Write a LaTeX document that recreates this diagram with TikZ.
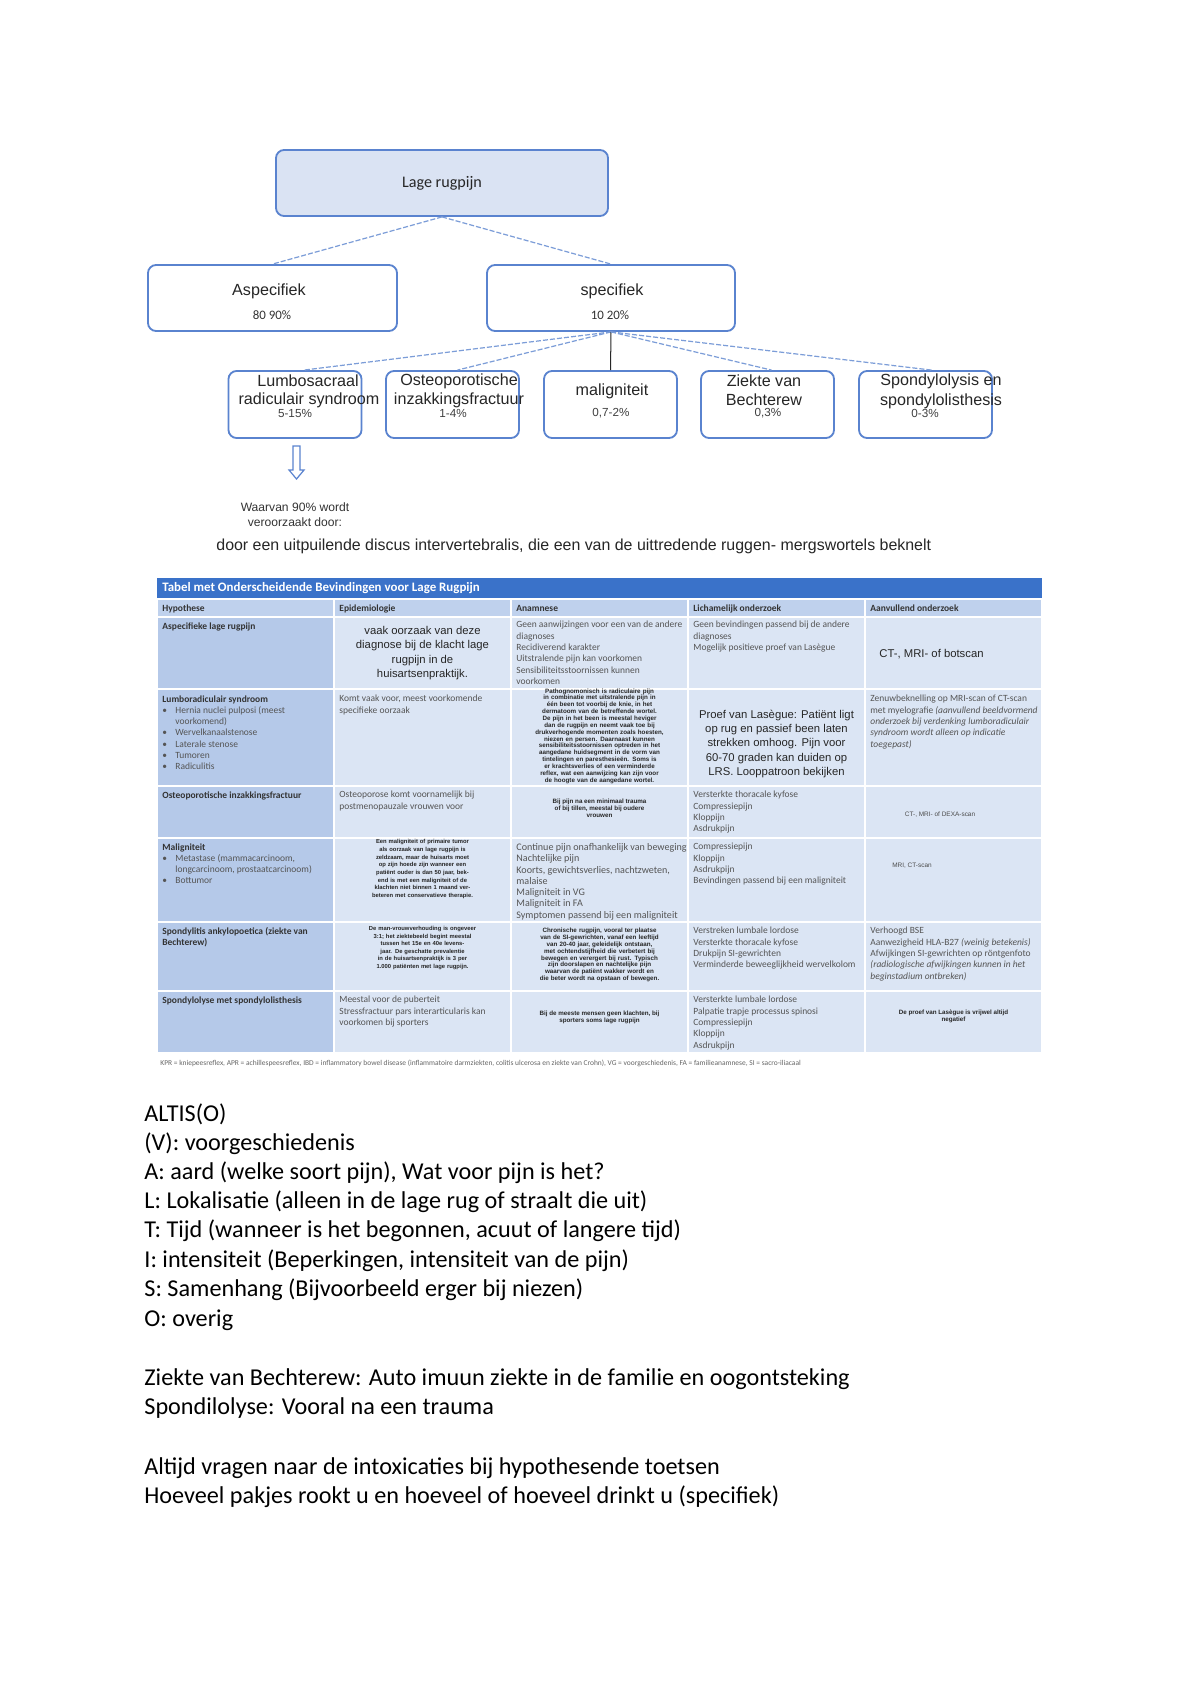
\documentclass[tikz,border=0pt]{standalone}
\usepackage{fontspec}
\setmainfont{Carlito}
\newfontfamily\arialf{Liberation Sans}
\usetikzlibrary{calc}
\newdimen\pxu \pxu=0.49583pt
\definecolor{boxblue}{HTML}{5A83CF}
\definecolor{rootfill}{HTML}{DAE3F3}
\definecolor{linkblue}{HTML}{7C9DD8}
\definecolor{titleblue}{HTML}{3A72C9}
\definecolor{colone}{HTML}{B5C9E9}
\definecolor{headfill}{HTML}{BFD1ED}
\definecolor{cellfill}{HTML}{DBE5F4}
\definecolor{celltext}{HTML}{555555}
\newcommand\bul{\makebox[13\pxu][l]{•}}
\newcommand\ind{\hspace*{13\pxu}}
\tikzset{
  treebox/.style={draw=boxblue, line width=0.9pt, rounded corners=4pt, fill=white, inner sep=0pt},
  lbl/.style={font=\arialf\fontsize{8}{9.4}\selectfont, inner sep=0pt, align=center, text=black!85},
  pct/.style={font=\fontsize{6.4}{7}\selectfont, inner sep=0pt, text=black!80},
  spct/.style={font=\arialf\fontsize{5.8}{7}\selectfont, inner sep=0pt, text=black!75},
  link/.style={linkblue, line width=0.6pt, dash pattern=on 2.5pt off 1pt},
  cellbg/.style={draw=white, line width=0.9pt},
  ctext/.style={font=\fontsize{4.7}{5.6}\selectfont, text=celltext, anchor=north west, inner sep=0pt, align=left},
  htext/.style={font=\bfseries\fontsize{4.7}{5.6}\selectfont, text=black!80, anchor=north west, inner sep=0pt, align=left},
  tinytxt/.style={font=\arialf\bfseries\fontsize{3.1}{3.4}\selectfont, text=black!85, inner sep=0pt, align=center},
  tinyplain/.style={font=\arialf\fontsize{3.2}{3.6}\selectfont, text=black!70, inner sep=0pt, align=center},
  bigtxt/.style={font=\arialf\fontsize{5.6}{7.1}\selectfont, text=black!85, inner sep=0pt, align=center},
  bodytxt/.style={font=\fontsize{12}{14.5}\selectfont, anchor=base west, inner sep=0pt, text=black},
}
\begin{document}
\begin{tikzpicture}[x=\pxu, y=-\pxu]
\useasboundingbox (0,0) rectangle (1200,1696);
\fill[white] (0,0) rectangle (1200,1696);

% ---------------- tree ----------------
\node[treebox, fill=rootfill, minimum width=332\pxu, minimum height=66\pxu,
      font=\fontsize{8}{9}\selectfont, text=black!85] (root) at (442,183) {Lage rugpijn};
\node[treebox, minimum width=249\pxu, minimum height=66\pxu] (asp) at (272.5,298) {};
\node[treebox, minimum width=248\pxu, minimum height=66\pxu] (spec) at (611,298) {};
\node[lbl] (asptitle) at (269,291) {Aspecifiek};
\node[pct] (asppct) at (272,315) {80 90\%};
\node[lbl] (spectitle) at (612,291) {specifiek};
\node[pct] (specpct) at (610,315) {10 20\%};

\foreach \nm/\cx in {lumbo/295, osteo/452.5, malig/610.5, bech/767.5, spondy/925.5}
  \node[treebox, minimum width=133\pxu, minimum height=67\pxu] (\nm) at (\cx,404.5) {};

\node[lbl] (lumboa) at (308,381) {Lumbosacraal};
\node[lbl] (lumbob) at (309,400) {radiculair syndroom};
\node[spct] (lumboc) at (295,413) {5-15\%};
\node[lbl] (osteoa) at (459,381) {Osteoporotische};
\node[lbl] (osteob) at (459,400) {inzakkingsfractuur};
\node[spct] (osteoc) at (453,413) {1-4\%};
\node[lbl] (maliga) at (612,391) {maligniteit};
\node[spct] (maligc) at (611,413) {0,7-2\%};
\node[lbl] (becha) at (764,381) {Ziekte van};
\node[lbl] (bechb) at (764,400) {Bechterew};
\node[spct] (bechc) at (768,413) {0,3\%};
\node[lbl] (spondya) at (941,381) {Spondylolysis en};
\node[lbl] (spondyb) at (941,401) {spondylolisthesis};
\node[spct] (spondyc) at (925,413) {0-3\%};

\draw[link] (root.south) -- (asp.north);
\draw[link] (root.south) -- (spec.north);
\draw[link] (spec.south) -- ($(lumbo.north)+(9,0)$);
\draw[link] (spec.south) -- ($(osteo.north)+(5,0)$);
\draw[black!85, line width=0.5pt] (spec.south) -- (malig.north);
\draw[link] (spec.south) -- ($(bech.north)+(4,0)$);
\draw[link] (spec.south) -- ($(spondy.north)+(6,0)$);

% hollow down arrow
\draw[boxblue, line width=0.6pt, fill=white]
  (293,446) -- (300,446) -- (300,470) -- (304,470) -- (296.5,479) -- (289,470) -- (293,470) -- cycle;
\node[font=\arialf\fontsize{6}{7.4}\selectfont, align=center, inner sep=0pt, text=black!80] (waarvan) at (295,514.5)
  {Waarvan 90\% wordt\\veroorzaakt door:};
\node[font=\arialf\fontsize{7.9}{8.5}\selectfont, anchor=west, inner sep=0pt, text=black!85] (door) at (216,546)
  {door een uitpuilende discus intervertebralis, die een van de uittredende ruggen- mergswortels beknelt};

% ---------------- table ----------------
\fill[titleblue] (157,578) rectangle (1042,598);
\node[font=\bfseries\fontsize{6.4}{7}\selectfont, text=white, anchor=west, inner sep=0pt] (ttitle) at (162,588.5)
  {Tabel met Onderscheidende Bevindingen voor Lage Rugpijn};
\foreach \xa/\xb in {157/334, 334/511, 511/688, 688/865, 865/1042}
  \path[cellbg, fill=headfill] (\xa,599) rectangle (\xb,617);
\foreach \ya/\yb in {617/689, 689/786, 786/838, 838/922, 922/991, 991/1053} {
  \path[cellbg, fill=colone] (157,\ya) rectangle (334,\yb);
  \foreach \xa/\xb in {334/511, 511/688, 688/865, 865/1042}
    \path[cellbg, fill=cellfill] (\xa,\ya) rectangle (\xb,\yb);
}
% header
\node[htext, anchor=west] (h1) at (162,608.5) {Hypothese};
\node[htext, anchor=west] (h2) at (339,608.5) {Epidemiologie};
\node[htext, anchor=west] (h3) at (516,608.5) {Anamnese};
\node[htext, anchor=west] (h4) at (693,608.5) {Lichamelijk onderzoek};
\node[htext, anchor=west] (h5) at (870,608.5) {Aanvullend onderzoek};

% row 1
\node[htext] (r1a) at (162,622) {Aspecifieke lage rugpijn};
\node[bigtxt] (r1b) at (422.5,653) {vaak oorzaak van deze\\diagnose bij de klacht lage\\rugpijn in de\\huisartsenpraktijk.};
\node[ctext] (r1c) at (516,621) {Geen aanwijzingen voor een van de andere\\diagnoses\\Recidiverend karakter\\Uitstralende pijn kan voorkomen\\Sensibiliteitsstoornissen kunnen\\voorkomen};
\node[ctext] (r1d) at (693,621) {Geen bevindingen passend bij de andere\\diagnoses\\Mogelijk positieve proef van Lasègue};
\node[font=\arialf\fontsize{5.6}{7}\selectfont, anchor=west, inner sep=0pt, text=black!85] (r1e) at (879,654) {CT-, MRI- of botscan};

% row 2
\node[ctext] (r2a) at (162,695) {\textbf{\color{black!80}Lumboradiculair syndroom}\\\bul Hernia nuclei pulposi (meest\\\ind voorkomend)\\\bul Wervelkanaalstenose\\\bul Laterale stenose\\\bul Tumoren\\\bul Radiculitis};
\node[ctext] (r2b) at (339,695) {Komt vaak voor, meest voorkomende\\specifieke oorzaak};
\node[tinytxt, text width=129\pxu] (r2c) at (599.5,736) {Pathognomonisch is radiculaire pijn in combinatie met uitstralende pijn in één been tot voorbij de knie, in het dermatoom van de betreffende wortel. De pijn in het been is meestal heviger dan de rugpijn en neemt vaak toe bij drukverhogende momenten zoals hoesten, niezen en persen. Daarnaast kunnen sensibiliteitsstoornissen optreden in het aangedane huidsegment in de vorm van tintelingen en paresthesieën. Soms is er krachtsverlies of een verminderde reflex, wat een aanwijzing kan zijn voor de hoogte van de aangedane wortel.};
\node[bigtxt] (r2d) at (776.5,744) {Proef van Lasègue: Patiënt ligt\\op rug en passief been laten\\strekken omhoog. Pijn voor\\60-70 graden kan duiden op\\LRS. Looppatroon bekijken};
\node[ctext] (r2e) at (870,695) {Zenuwbeknelling op MRI-scan of CT-scan\\met myelografie \textit{(aanvullend beeldvormend}\\\textit{onderzoek bij verdenking lumboradiculair}\\\textit{syndroom wordt alleen op indicatie}\\\textit{toegepast)}};

% row 3
\node[htext] (r3a) at (162,791) {Osteoporotische inzakkingsfractuur};
\node[ctext] (r3b) at (339,791) {Osteoporose komt voornamelijk bij\\postmenopauzale vrouwen voor};
\node[tinytxt] (r3c) at (599.5,808) {Bij pijn na een minimaal trauma\\of bij tillen, meestal bij oudere\\vrouwen};
\node[ctext] (r3d) at (693,791) {Versterkte thoracale kyfose\\Compressiepijn\\Kloppijn\\Asdrukpijn};
\node[tinyplain] (r3e) at (940,815) {CT-, MRI- of DEXA-scan};

% row 4
\node[ctext] (r4a) at (162,843) {\textbf{\color{black!80}Maligniteit}\\\bul Metastase (mammacarcinoom,\\\ind longcarcinoom, prostaatcarcinoom)\\\bul Bottumor};
\node[tinytxt, font=\arialf\bfseries\fontsize{2.9}{3.8}\selectfont, text width=104\pxu] (r4b) at (422.5,869) {Een maligniteit of primaire tumor als oorzaak van lage rugpijn is zeldzaam, maar de huisarts moet op zijn hoede zijn wanneer een patiënt ouder is dan 50 jaar, bekend is met een maligniteit of de klachten niet binnen 1 maand verbeteren met conservatieve therapie.};
\node[ctext, font=\fontsize{5}{5.6}\selectfont] (r4c) at (516,843) {Continue pijn onafhankelijk van beweging\\Nachtelijke pijn\\Koorts, gewichtsverlies, nachtzweten,\\malaise\\Maligniteit in VG\\Maligniteit in FA\\Symptomen passend bij een maligniteit};
\node[ctext] (r4d) at (693,843) {Compressiepijn\\Kloppijn\\Asdrukpijn\\Bevindingen passend bij een maligniteit};
\node[tinyplain] (r4e) at (912,866) {MRI, CT-scan};

% row 5
\node[htext] (r5a) at (162,927) {Spondylitis ankylopoetica (ziekte van\\Bechterew)};
\node[tinytxt, font=\arialf\bfseries\fontsize{2.9}{3.7}\selectfont, text width=118\pxu] (r5b) at (422.5,948) {De man-vrouwverhouding is ongeveer 3:1; het ziektebeeld begint meestal tussen het 15e en 40e levensjaar. De geschatte prevalentie in de huisartsenpraktijk is 3 per 1.000 patiënten met lage rugpijn.};
\node[tinytxt, text width=126\pxu] (r5c) at (599.5,955) {Chronische rugpijn, vooral ter plaatse van de SI-gewrichten, vanaf een leeftijd van 20-40 jaar, geleidelijk ontstaan, met ochtendstijfheid die verbetert bij bewegen en verergert bij rust. Typisch zijn doorslapen en nachtelijke pijn waarvan de patiënt wakker wordt en die beter wordt na opstaan of bewegen.};
\node[ctext] (r5d) at (693,927) {Verstreken lumbale lordose\\Versterkte thoracale kyfose\\Drukpijn SI-gewrichten\\Verminderde beweeglijkheid wervelkolom};
\node[ctext] (r5e) at (870,927) {Verhoogd BSE\\Aanwezigheid HLA-B27 \textit{(weinig betekenis)}\\Afwijkingen SI-gewrichten op röntgenfoto\\\textit{(radiologische afwijkingen kunnen in het}\\\textit{beginstadium ontbreken)}};

% row 6
\node[htext] (r6a) at (162,996) {Spondylolyse met spondylolisthesis};
\node[ctext] (r6b) at (339,996) {Meestal voor de puberteit\\Stressfractuur pars interarticularis kan\\voorkomen bij sporters};
\node[tinytxt] (r6c) at (599.5,1017) {Bij de meeste mensen geen klachten, bij\\sporters soms lage rugpijn};
\node[ctext] (r6d) at (693,996) {Versterkte lumbale lordose\\Palpatie trapje processus spinosi\\Compressiepijn\\Kloppijn\\Asdrukpijn};
\node[tinytxt] (r6e) at (953.5,1016) {De proef van Lasègue is vrijwel altijd\\negatief};

\node[font=\fontsize{3.7}{4}\selectfont, text=black!60, anchor=west, inner sep=0pt] (foot) at (160,1063)
  {KPR = kniepeesreflex, APR = achillespeesreflex, IBD = inflammatory bowel disease (inflammatoire darmziekten, colitis ulcerosa en ziekte van Crohn), VG = voorgeschiedenis, FA = familieanamnese, SI = sacro-iliacaal};

% ---------------- notes ----------------
\node[bodytxt] (t1) at (144,1121) {ALTIS(O)};
\node[bodytxt] (t2) at (144,1150) {(V): voorgeschiedenis};
\node[bodytxt] (t3) at (144,1179) {A: aard (welke soort pijn), Wat voor pijn is het?};
\node[bodytxt] (t4) at (144,1208.5) {L: Lokalisatie (alleen in de lage rug of straalt die uit)};
\node[bodytxt] (t5) at (144,1237.5) {T: Tijd (wanneer is het begonnen, acuut of langere tijd)};
\node[bodytxt] (t6) at (144,1267) {I: intensiteit (Beperkingen, intensiteit van de pijn)};
\node[bodytxt] (t7) at (144,1296.5) {S: Samenhang (Bijvoorbeeld erger bij niezen)};
\node[bodytxt] (t8) at (144,1326) {O: overig};
\node[bodytxt] (t9) at (144,1385) {Ziekte van Bechterew: Auto imuun ziekte in de familie en oogontsteking};
\node[bodytxt] (t10) at (144,1414.5) {Spondilolyse: Vooral na een trauma};
\node[bodytxt] (t11) at (144,1474) {Altijd vragen naar de intoxicaties bij hypothesende toetsen};
\node[bodytxt] (t12) at (144,1503.5) {Hoeveel pakjes rookt u en hoeveel of hoeveel drinkt u (specifiek)};
\end{tikzpicture}
\end{document}
